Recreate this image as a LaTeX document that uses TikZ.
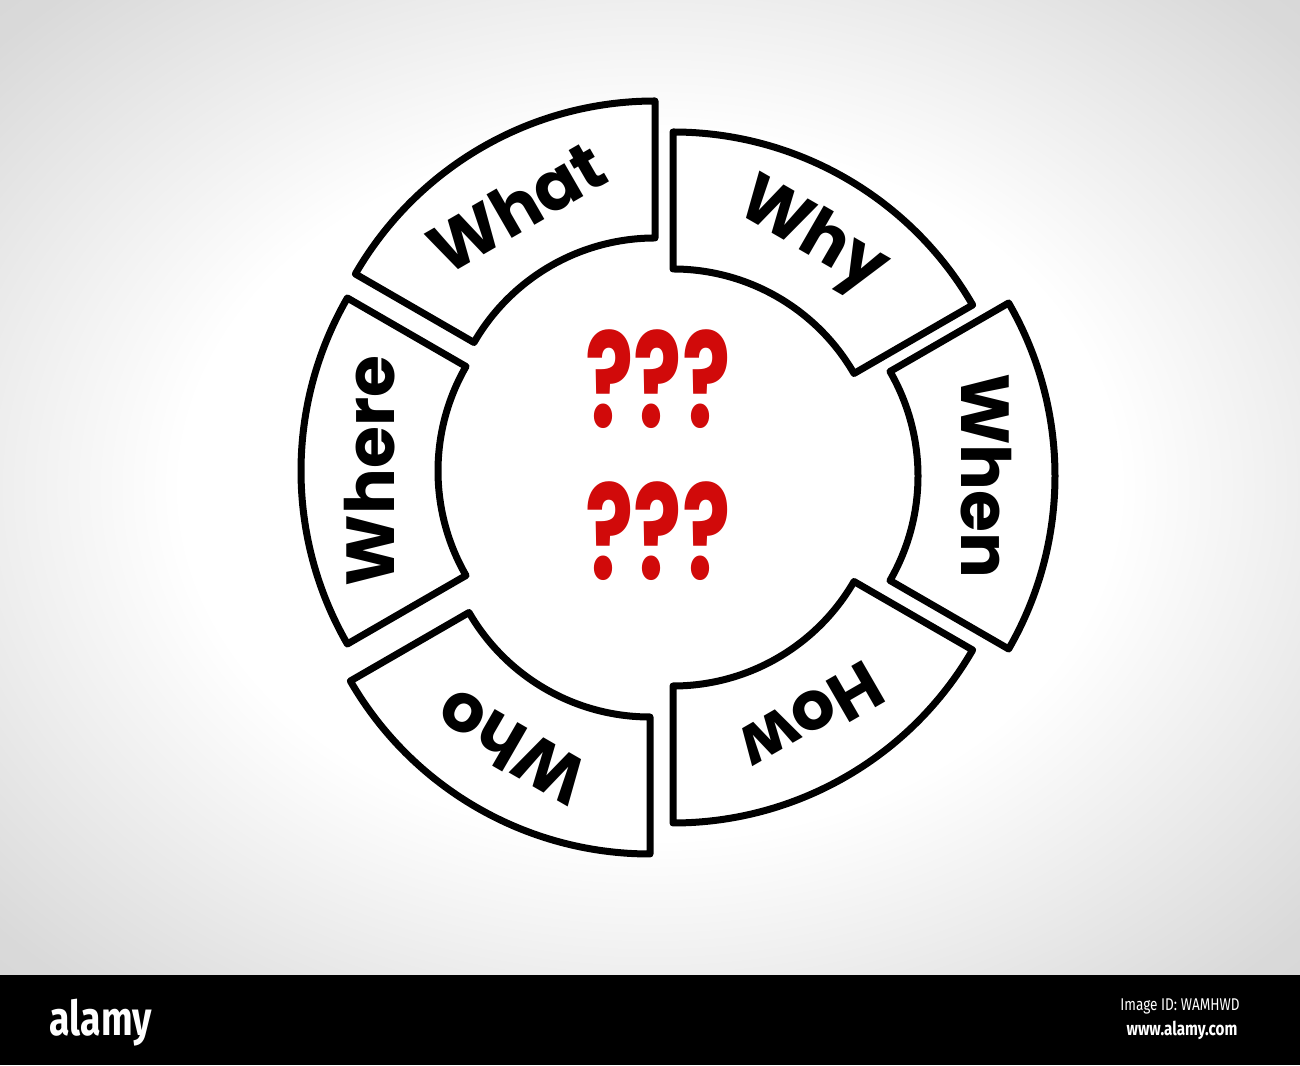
\documentclass[tikz,border=0pt]{standalone}
\usepackage{fontspec}
\setmainfont{Poppins}
\newfontfamily\barfont{Fira Sans}
\usetikzlibrary{calc,positioning}
\definecolor{wwred}{HTML}{D10A0A}
\pgfdeclareradialshading{ww_vignette}{\pgfpoint{0bp}{0bp}}{color(0bp)=(white); color(18bp)=(white); color(34bp)=(black!15); color(50bp)=(black!17)}
\tikzset{
	ww_base/.style={font=\fontsize{68}{74}\selectfont\bfseries, text=black},
	ww_seg/.style={draw=black, fill=white, line width=7pt, line join=round},
	ww_label/.style={ww_base, inner sep=0pt, anchor=center},
	ww_qmark/.style={font=\fontsize{132}{140}\selectfont\bfseries, text=wwred, xscale=0.68, inner sep=0pt, on grid},
	ww_bar/.style={fill=black},
	ww_bartext/.style={text=white, inner sep=0pt}
}

\begin{document}
\begin{tikzpicture}[x=1pt, y=1pt]
	\useasboundingbox (0,0) rectangle (1300,1065);
	\shade[shading=ww_vignette] (0,90) rectangle (1300,1065);
	\fill[ww_bar] (0,0) rectangle (1300,90);

	% six exploded ring pieces, each 60 degrees
	\foreach \cx/\cy/\a/\word/\nm in {673/587/30/Why/why, 655/618/90/What/what, 647/594/150/Where/where, 650/557/210/Who/who, 673/588/270/How/how, 709/589/-30/When/when}
	{
		\draw[ww_seg] (\cx,\cy) ++(\a:346) arc[start angle=\a, delta angle=60, radius=346]
			-- ($(\cx,\cy)+(\a+60:209)$) arc[start angle=\a+60, delta angle=-60, radius=209] -- cycle;
		\node[ww_label, rotate=\a-60] (\nm) at ($(\cx,\cy)+(\a+30:277)$) {\word};
	}

	\node[ww_qmark] (q1) at (658,686) {???};
	\node[ww_qmark, below=152pt of q1] (q2) {???};

	\node[ww_bartext, font=\barfont\bfseries\fontsize{48}{50}\selectfont, xscale=0.78] (logo) at (101,42) {alamy};
	\node[ww_bartext, font=\barfont\fontsize{17}{18}\selectfont, xscale=0.8] (imgid) at (1180,59) {Image ID: WAMHWD};
	\node[ww_bartext, font=\barfont\bfseries\fontsize{19}{20}\selectfont, xscale=0.8] (site) at (1182,35) {www.alamy.com};
\end{tikzpicture}
\end{document}
